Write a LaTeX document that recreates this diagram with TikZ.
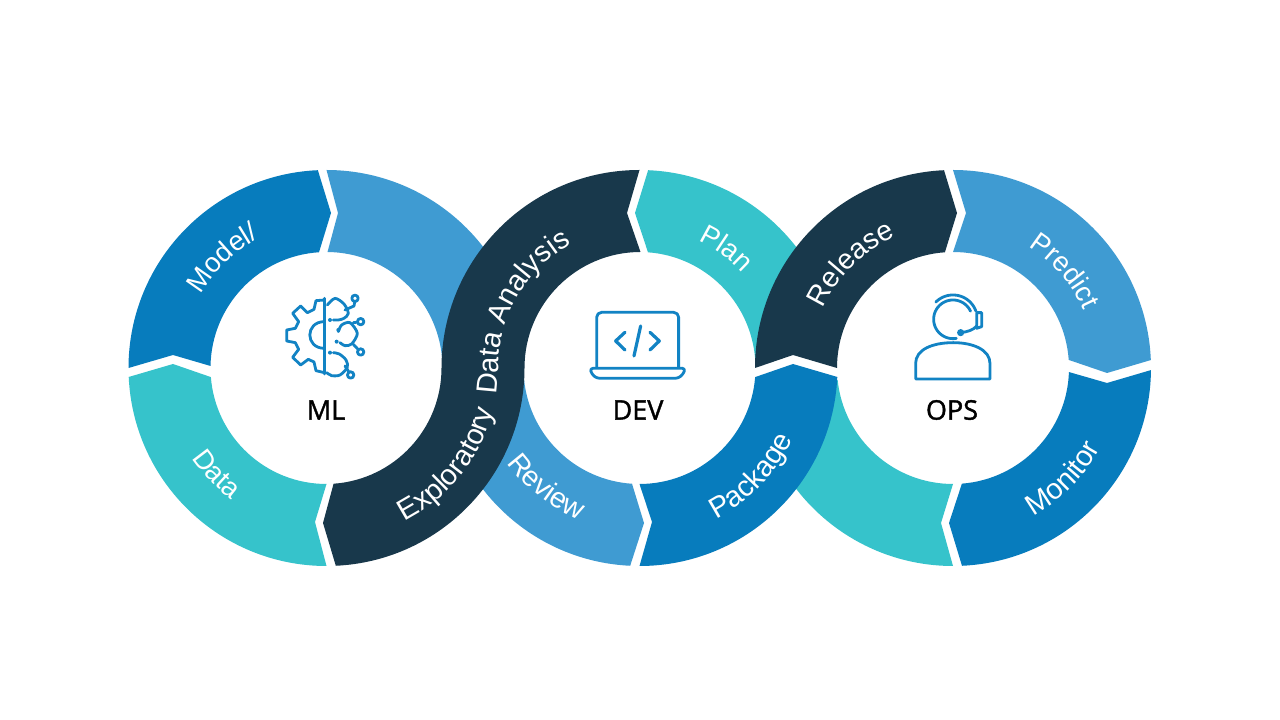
\documentclass[tikz,border=0pt]{standalone}
\usepackage{fontspec}
\usetikzlibrary{calc,decorations.text}
\newfontfamily\bandfamily{Liberation Sans}
\newfontfamily\hubfamily[FakeBold=1.4]{Open Sans}
\newcommand{\bandtext}[1]{\color{white}\bandfamily\fontsize{#1pt}{30pt}\selectfont}
\definecolor{cDark}{HTML}{18384B}
\definecolor{cBlue}{HTML}{077CBD}
\definecolor{cLight}{HTML}{3F9BD2}
\definecolor{cTeal}{HTML}{36C3CB}
\definecolor{cIcon}{HTML}{1283C4}
\tikzset{
  hub/.style={font=\hubfamily\fontsize{27pt}{30pt}\selectfont,text=black,inner sep=0pt},
  iconline/.style={draw=cIcon,line width=2.8pt,line join=round,line cap=round},
  bandlabel/.style 2 args={decorate,decoration={text along path,text align=center,text={|\bandtext{#2}|#1}}},
}
\begin{document}
\begin{tikzpicture}[x=1pt,y=1pt]
\useasboundingbox (0,0) rectangle (1280,720);
\fill[white] (0,0) rectangle (1280,720);
\coordinate (c1) at (326.5,352);
\coordinate (c2) at (639.5,352);
\coordinate (c3) at (953,352);
% lower layer
\fill[cLight] ($(c1)+(90:198pt)$) arc[start angle=90,end angle=5,radius=198pt]
  -- ($(c1)+(5:116pt)$) arc[start angle=5,end angle=89.5,radius=116pt] -- (338,507) -- cycle;
\fill[cLight] ($(c2)+(186:198pt)$) arc[start angle=186,end angle=267.3,radius=198pt]
  -- (644,197) -- ($(c2)+(266.3:116pt)$) arc[start angle=266.3,end angle=186,radius=116pt] -- cycle;
\fill[cTeal] ($(c2)+(87.5:198pt)$) arc[start angle=87.5,end angle=5,radius=198pt]
  -- ($(c2)+(5:116pt)$) arc[start angle=5,end angle=85.8,radius=116pt] -- (635,507) -- cycle;
\fill[cTeal] ($(c3)+(186:198pt)$) arc[start angle=186,end angle=270,radius=198pt]
  -- (941,197) -- ($(c3)+(270:116pt)$) arc[start angle=270,end angle=186,radius=116pt] -- cycle;
% ML ring
\fill[cBlue] ($(c1)+(180:198pt)$) arc[start angle=180,end angle=92.5,radius=198pt]
  -- (331,507) -- ($(c1)+(93.7:116pt)$) arc[start angle=93.7,end angle=179,radius=116pt] -- (173,365) -- cycle;
\fill[cTeal] ($(c1)+(182.6:198pt)$) arc[start angle=182.6,end angle=270,radius=198pt]
  -- (315,198) -- ($(c1)+(270:116pt)$) arc[start angle=270,end angle=184.5,radius=116pt] -- (173,356) -- cycle;
% S band
\fill[cDark] ($(c1)+(272.7:198pt)$) arc[start angle=272.7,end angle=360,radius=198pt]
  arc[start angle=180,end angle=90,radius=116pt] -- (627,507)
  -- ($(c2)+(90:198pt)$) arc[start angle=90,end angle=180,radius=198pt]
  arc[start angle=0,end angle=-86,radius=116pt] -- (323,197) -- cycle;
% Package, Release, Predict, Monitor
\fill[cBlue] ($(c2)+(270:198pt)$) arc[start angle=270,end angle=357.4,radius=198pt]
  -- (793,356) -- ($(c2)+(355.5:116pt)$) arc[start angle=355.5,end angle=270,radius=116pt] -- (652,198) -- cycle;
\fill[cDark] ($(c3)+(180:198pt)$) arc[start angle=180,end angle=92.6,radius=198pt]
  -- (957,507) -- ($(c3)+(94:116pt)$) arc[start angle=94,end angle=180,radius=116pt] -- (793,365) -- cycle;
\fill[cLight] ($(c3)+(90:198pt)$) arc[start angle=90,end angle=2.3,radius=198pt]
  -- (1107,347) -- ($(c3)+(4:116pt)$) arc[start angle=4,end angle=90,radius=116pt] -- (966,507) -- cycle;
\fill[cBlue] ($(c3)+(272.6:198pt)$) arc[start angle=272.6,end angle=359.4,radius=198pt]
  -- (1107,337) -- ($(c3)+(358:116pt)$) arc[start angle=358,end angle=274.4,radius=116pt] -- (949,197) -- cycle;
% curved labels
\path[bandlabel={Model/}{27.5}] ($(c1)+(173.5:146pt)$) arc[start angle=173.5,end angle=93.5,radius=146pt];
\path[bandlabel={Data}{27.5}] ($(c1)+(184:162pt)$) arc[start angle=184,end angle=264,radius=162pt];
\path[bandlabel={Exploratory~ Data Analysis}{29}] ($(c1)+(-64:172pt)$) arc[start angle=-64,end angle=0,radius=172pt]
  arc[start angle=180,end angle=117.6,radius=141pt];
\path[bandlabel={Plan}{27.5}] ($(c2)+(94:140pt)$) arc[start angle=94,end angle=14,radius=140pt];
\path[bandlabel={Review}{28.5}] ($(c2)+(192:163pt)$) arc[start angle=192,end angle=272,radius=163pt];
\path[bandlabel={Package}{29}] ($(c2)+(-84:169pt)$) arc[start angle=-84,end angle=-4,radius=169pt];
\path[bandlabel={Release}{28.5}] ($(c3)+(174.5:143pt)$) arc[start angle=174.5,end angle=94.5,radius=143pt];
\path[bandlabel={Predict}{27.5}] ($(c3)+(81:143pt)$) arc[start angle=81,end angle=1,radius=143pt];
\path[bandlabel={Monitor}{29}] ($(c3)+(-85:168pt)$) arc[start angle=-85,end angle=-5,radius=168pt];
% hub labels
\node[hub] (ml) at (326,310) {ML};
\node[hub] (dev) at (638,310) {DEV};
\node[hub] (ops) at (952,310) {OPS};
% gear-brain icon
\begin{scope}[shift={(270,440)},x=0.3333pt,y=-0.3333pt]
  \draw[iconline] (163,60) -- (138,62) -- (132,88) -- (112,98) -- (92,78) -- (68,100) -- (86,125) -- (76,145) -- (50,150) -- (50,183) -- (76,188) -- (86,208) -- (68,232) -- (92,255) -- (115,238) -- (132,246) -- (138,272) -- (163,278);
  \draw[iconline] (163,55) -- (163,282);
  \draw[iconline] (163,125) .. controls (105,125) and (105,205) .. (163,205);
  \draw[iconline] plot[smooth] coordinates {(172,75) (195,55) (222,72) (235,100) (222,115) (205,120) (190,120)};
  \draw[iconline] plot[smooth] coordinates {(205,155) (215,135) (240,128) (262,160) (245,192) (225,197) (210,188)};
  \draw[iconline] plot[smooth] coordinates {(190,218) (208,222) (228,240) (232,262) (210,285) (185,287) (170,278)};
  \draw[iconline] (225,90) -- (252,78) -- (255,62);
  \draw[iconline] (250,128) -- (266,126);
  \draw[iconline] (250,193) -- (266,210);
  \draw[iconline] (225,258) -- (238,278);
  \draw[iconline,fill=white] (255,55) circle[radius=3.2pt];
  \draw[iconline,fill=white] (272,125) circle[radius=3.2pt];
  \draw[iconline,fill=white] (272,216) circle[radius=3.2pt];
  \draw[iconline,fill=white] (242,285) circle[radius=3.2pt];
  \fill[cIcon] (180,120) circle[radius=2pt] (205,150) circle[radius=2pt] (200,185) circle[radius=2pt] (180,218) circle[radius=2pt];
\end{scope}
% laptop icon
\begin{scope}[shift={(440,560)},x=0.3333pt,y=-0.3333pt]
  \draw[iconline,rounded corners=5pt] (470,622) -- (470,457) -- (716,457) -- (716,622);
  \draw[iconline,rounded corners=3pt] (450,625) -- (736,625) -- (730,642) -- (715,655) -- (470,655) -- (455,642) -- cycle;
  \draw[iconline,line width=3.2pt] (555,517) -- (527,543) -- (555,570);
  \draw[iconline,line width=3.2pt] (630,517) -- (658,543) -- (630,570);
  \draw[iconline,line width=3.2pt] (602,498) -- (582,588);
\end{scope}
% headset icon
\begin{scope}[shift={(750,560)},x=0.3333pt,y=-0.3333pt]
  \draw[iconline,line cap=butt] (497,657) -- (720,657) -- (720,610) .. controls (720,570) and (670,548) .. (610,548) .. controls (545,548) and (497,570) .. (497,610) -- cycle;
  \draw[iconline] plot[domain=-25:-280,samples=40,smooth] ({609+58*cos(\x)},{478+58*sin(\x)});
  \draw[iconline] plot[domain=-135:-20,samples=30,smooth] ({609+73*cos(\x)},{478+73*sin(\x)});
  \draw[iconline,line join=round] (680,458) -- (695,458) -- (695,500) -- (680,505) -- cycle;
  \draw[iconline] (632,518) .. controls (655,515) and (670,510) .. (680,498);
  \fill[cIcon] (632,518) circle[radius=3.6pt];
\end{scope}
\end{tikzpicture}
\end{document}
